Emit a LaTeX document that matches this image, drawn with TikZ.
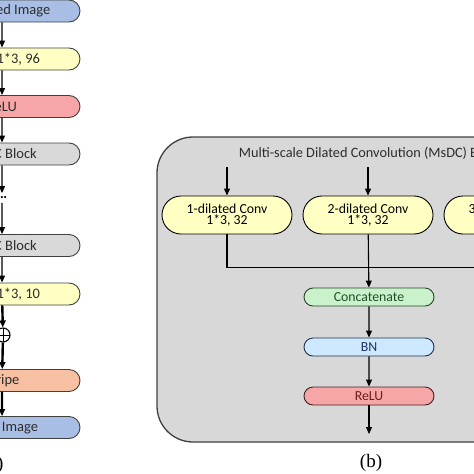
\documentclass[tikz,border=0pt]{standalone}
\usepackage{fontspec}
\setmainfont{Carlito}
\newfontfamily\capfont{Liberation Serif}
\usetikzlibrary{shapes.misc,positioning,arrows.meta}

\definecolor{inblue}{RGB}{168,190,228}
\definecolor{convyellow}{RGB}{255,255,196}
\definecolor{relured}{RGB}{246,166,166}
\definecolor{blockgray}{RGB}{217,217,217}
\definecolor{stripeorange}{RGB}{248,192,162}
\definecolor{catgreen}{RGB}{202,242,202}
\definecolor{bnblue}{RGB}{206,233,255}
\definecolor{boxgray}{RGB}{216,216,216}
\definecolor{linegray}{RGB}{64,64,64}
\definecolor{textgray}{RGB}{45,45,45}

\newcommand\lblfont{\fontsize{14.5}{12}\selectfont}
\newcommand\msfont{\fontsize{13.8}{11.5}\selectfont}

\begin{document}
\begin{tikzpicture}[x=1pt,y=-1pt,line width=1.1pt,
  arr/.style={-{Triangle[length=7pt,width=6pt]}},
  stage/.style={rounded rectangle,draw=linegray,line width=0.9pt,fill=#1,
    minimum width=158pt,minimum height=22pt,inner sep=1pt,text=textgray,font=\lblfont},
  layer/.style={rounded rectangle,draw=linegray,line width=0.9pt,
    minimum width=132pt,minimum height=18pt,inner sep=1pt,font=\msfont},
  branch/.style={layer,draw=black,fill=convyellow,minimum height=38pt,align=center}]
\useasboundingbox (0,0) rectangle (474,474);
\clip (0,0) rectangle (474,474);

% (a) network
\node [stage=inblue] (in) at (2,11) {Degraded Image};
\node [stage=convyellow] (c96) at (2,59) {Conv 1*3, 96};
\node [stage=relured] (r1) at (2,106.5) {ReLU};
\node [stage=blockgray] (b1) at (2,154) {MsDC Block};
\node (dots) at (2,198) {\lblfont\textbf{\dots}};
\node [stage=blockgray] (b2) at (2,245.5) {MsDC Block};
\node [stage=convyellow] (c10) at (2,294) {Conv 1*3, 10};
\node [circle,draw=black,minimum size=14pt,inner sep=0pt,
  path picture={\draw[line width=0.9pt] (path picture bounding box.north) -- (path picture bounding box.south)
    (path picture bounding box.west) -- (path picture bounding box.east);}] (add) at (3,335) {};
\node [stage=stripeorange] (st) at (2,380.5) {Stripe};
\node [stage=inblue] (outimg) at (2,427.5) {Clean Image};
\node [font=\capfont\fontsize{19}{19}\selectfont] (la) at (-7,465) {(a)};

\draw[arr] (in) -- (c96);
\draw[arr] (c96) -- (r1);
\draw[arr] (r1) -- (b1);
\draw[arr] (b1) -- (dots);
\draw[arr] (dots) -- (b2);
\draw[arr] (b2) -- (c10);
\draw[arr,line width=2.4pt] (c10) -- (add);
\draw[arr,line width=2.4pt] (add) -- (st);
\draw[arr,line width=2.4pt] (st) -- (outimg);

% (b) MsDC block
\draw[fill=boxgray,draw=linegray,line width=1.3pt,rounded corners=36pt] (157,137) rectangle (540,442);
\node [anchor=west,text=textgray,font=\fontsize{14.3}{14}\selectfont] (title) at (235,153)
  {Multi-scale Dilated Convolution (MsDC) Block};

\node [branch] (d1) at (227,215) {1-dilated Conv\\1*3, 32};
\node [branch] (d2) at (368,215) {2-dilated Conv\\1*3, 32};
\node [branch] (d3) at (509,215) {3-dilated Conv\\1*3, 32};
\coordinate (t1) at (227,167);
\coordinate (t2) at (368,167);
\coordinate (t3) at (509,167);
\draw[arr] (t1) -- (d1);
\draw[arr] (t2) -- (d2);
\draw[arr] (t3) -- (d3);

\node [layer,fill=catgreen,draw={rgb,255:red,40;green,70;blue,45},text={rgb,255:red,30;green,80;blue,40}] (cat) at (369,297) {Concatenate};
\node [layer,fill=bnblue,draw={rgb,255:red,35;green,50;blue,80},text={rgb,255:red,30;green,50;blue,100}] (bn) at (369,347) {BN};
\node [layer,fill=relured,draw={rgb,255:red,70;green,35;blue,35},text={rgb,255:red,110;green,30;blue,30}] (relu) at (369,396) {ReLU};
\coordinate (msout) at (369,434);

\draw (d1.south) -- ++(0,33) -| (d3.south);
\draw[arr] (d2) -- (cat);
\draw[arr] (cat) -- (bn);
\draw[arr] (bn) -- (relu);
\draw[arr] (relu) -- (msout);
\node [font=\capfont\fontsize{19}{19}\selectfont] (lb) at (371,463) {(b)};
\end{tikzpicture}
\end{document}
